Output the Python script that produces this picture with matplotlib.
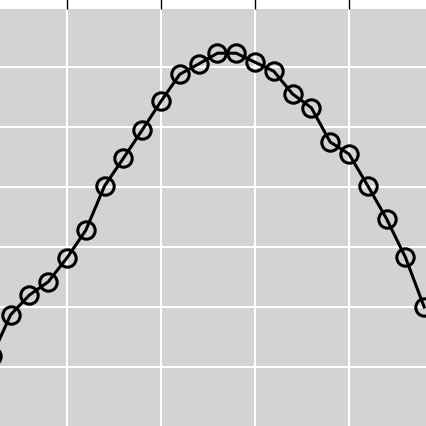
import matplotlib
matplotlib.use("Agg")
import matplotlib.pyplot as plt

# data
x_vals = [0.2, 0.4, 0.6, 0.8, 1.0, 1.2, 1.4, 1.6, 1.8, 2.0, 2.2, 2.4,
          2.6, 2.8, 3.0, 3.2, 3.4, 3.6, 3.8, 4.0, 4.2, 4.4, 4.6, 4.8]
y_vals = [0.18, 0.87, 1.20, 1.42, 1.82, 2.28, 3.02, 3.48, 3.95, 4.43, 4.88, 5.05,
          5.23, 5.23, 5.08, 4.93, 4.55, 4.32, 3.75, 3.55, 3.02, 2.47, 1.83, 1.00]
x_ticks = [1, 2, 3, 4]
y_ticks = [0, 1, 2, 3, 4, 5]

fig = plt.figure(figsize=(4.27, 4.27), dpi=100)
ax = fig.add_axes([0, 0, 1, 417 / 427])
ax.set_facecolor('#d3d3d3')

ax.plot(x_vals, y_vals, color='black', linewidth=2.2, marker='o',
        markersize=12.5, markerfacecolor='none', markeredgecolor='black',
        markeredgewidth=2.2, zorder=3)

ax.set_xlim(0.287, 4.830)
ax.set_ylim(-0.983, 5.967)
ax.set_xticks(x_ticks)
ax.set_yticks(y_ticks)
ax.grid(True, color='white', linewidth=1.5)
ax.set_axisbelow(True)

for s in ax.spines.values():
    s.set_visible(False)

ax.tick_params(axis='x', which='both', bottom=False, top=True, direction='out',
               length=7, width=1, color='black', labelbottom=False, labeltop=False)
ax.tick_params(axis='y', which='both', left=False, right=False,
               labelleft=False, labelright=False)

fig.savefig('out.png', dpi=100)
